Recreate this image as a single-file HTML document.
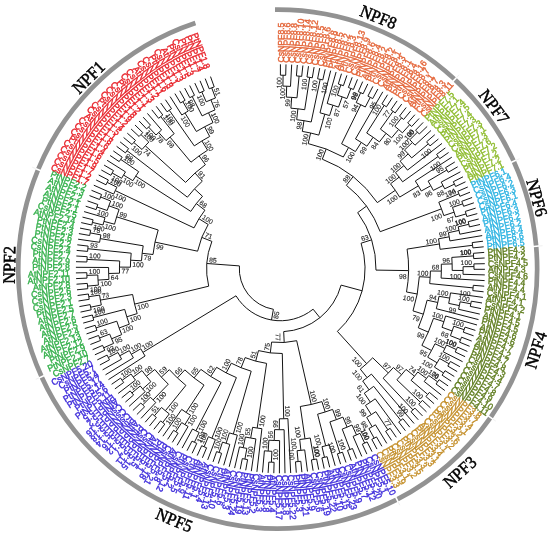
<!DOCTYPE html>
<html lang="en"><head><meta charset="utf-8"><title>NPF phylogenetic tree</title>
<style>html,body{margin:0;padding:0;background:#fff}svg{display:block;filter:blur(0.35px)}</style></head>
<body>
<svg width="550" height="535" viewBox="0 0 550 535">
<rect width="550" height="535" fill="#fff"/>
<g transform="translate(277.7 269.1)">
<path d="M-2.7 -259.4A259.4 259.4 0 0 1 176.5 -190.2M177.6 -189.1A259.4 259.4 0 0 1 235.7 -108.5M236.3 -107.1A259.4 259.4 0 0 1 258.4 -23.6M258.5 -22.1A259.4 259.4 0 0 1 213.3 147.7M212.4 149A259.4 259.4 0 0 1 119.9 230.1M118.5 230.8A259.4 259.4 0 0 1 -235.8 108.3M-236.4 106.9A259.4 259.4 0 0 1 -239.9 -98.8M-239.3 -100.2A259.4 259.4 0 0 1 -82.3 -246" fill="none" stroke="#929292" stroke-width="4.7"/>
<path d="M181.4 -194.3L179 -191.7M241.8 -110.4L238.6 -109M264.8 -23.4L261.3 -23.1M218.1 152L215.2 150M122.1 236.1L120.5 233M-241.9 110.2L-238.7 108.8M-245.5 -101.9L-242.2 -100.6" fill="none" stroke="#f0f0f0" stroke-width="1"/>
<g font-family="'Liberation Serif',serif" font-size="17.4" fill="#000" stroke="#000" stroke-width="0.5">
<text transform="rotate(21.8) translate(0 -265.5) scale(0.93 1)" text-anchor="middle">NPF8</text>
<text transform="rotate(53.1) translate(0 -264.8) scale(0.93 1)" text-anchor="middle">NPF7</text>
<text transform="rotate(74.6) translate(0 -263.1) scale(0.93 1)" text-anchor="middle">NPF6</text>
<text transform="rotate(287.4) translate(0 276.4) scale(0.93 1)" text-anchor="middle">NPF4</text>
<text transform="rotate(318.1) translate(0 278.5) scale(0.93 1)" text-anchor="middle">NPF3</text>
<text transform="rotate(22.4) translate(0 277.3) scale(0.93 1)" text-anchor="middle">NPF5</text>
<text transform="rotate(270.9) translate(0 -262.6) scale(0.93 1)" text-anchor="middle">NPF2</text>
<text transform="rotate(315.4) translate(0 -263.6) scale(0.93 1)" text-anchor="middle">NPF1</text>
</g></g>
<g transform="translate(280.4 268.8)">
<g font-family="'Liberation Sans',sans-serif" font-size="9.15" stroke-width="0.4">
<g fill="#e4663a" stroke="#e4663a">
<text transform="rotate(-90) scale(0.95 1)" x="217.1" y="3.2">CsNPF8.5</text>
<text transform="rotate(-88.4) scale(0.95 1)" x="217.1" y="3.2">CsNPF8.6</text>
<text transform="rotate(-86.8) scale(0.95 1)" x="217.1" y="3.2">CsNPF8.8</text>
<text transform="rotate(-85.3) scale(0.95 1)" x="217.1" y="3.2">CsNPF8.10</text>
<text transform="rotate(-83.7) scale(0.95 1)" x="217.2" y="3.2">CsNPF8.14</text>
<text transform="rotate(-82.1) scale(0.95 1)" x="217.2" y="3.2">CsNPF8.12</text>
<text transform="rotate(-80.5) scale(0.95 1)" x="217.3" y="3.2">CsNPF8.5</text>
<text transform="rotate(-78.9) scale(0.95 1)" x="217.4" y="3.2">CsNPF8.6</text>
<text transform="rotate(-77.3) scale(0.95 1)" x="217.4" y="3.2">PtNPF8.8</text>
<text transform="rotate(-75.8) scale(0.95 1)" x="217.5" y="3.2">PtNPF8.5</text>
<text transform="rotate(-74.2) scale(0.95 1)" x="217.6" y="3.2">AtNPF8.2</text>
<text transform="rotate(-72.6) scale(0.95 1)" x="217.7" y="3.2">PtNPF8.3</text>
<text transform="rotate(-71) scale(0.95 1)" x="217.9" y="3.2">CsNPF8.13</text>
<text transform="rotate(-69.4) scale(0.95 1)" x="218" y="3.2">CsNPF8.9</text>
<text transform="rotate(-67.9) scale(0.95 1)" x="218.1" y="3.2">PtNPF8.6</text>
<text transform="rotate(-66.3) scale(0.95 1)" x="218.2" y="3.2">AtNPF8.4</text>
<text transform="rotate(-64.7) scale(0.95 1)" x="218.3" y="3.2">PtNPF8.2</text>
<text transform="rotate(-63.1) scale(0.95 1)" x="218.5" y="3.2">CsNPF8.2</text>
<text transform="rotate(-61.5) scale(0.95 1)" x="218.6" y="3.2">CsNPF8.1</text>
<text transform="rotate(-60) scale(0.95 1)" x="218.7" y="3.2">AtNPF8.3</text>
<text transform="rotate(-58.4) scale(0.95 1)" x="218.8" y="3.2">PtNPF8.1</text>
<text transform="rotate(-56.8) scale(0.95 1)" x="218.9" y="3.2">PtNPF8.4</text>
<text transform="rotate(-55.2) scale(0.95 1)" x="219" y="3.2">CsNPF8.16</text>
<text transform="rotate(-53.6) scale(0.95 1)" x="219.1" y="3.2">CsNPF8.7</text>
<text transform="rotate(-52) scale(0.95 1)" x="219.2" y="3.2">AtNPF8.1</text>
<text transform="rotate(-50.5) scale(0.95 1)" x="219.3" y="3.2">PtNPF8.7</text>
<text transform="rotate(-48.9) scale(0.95 1)" x="219.4" y="3.2">CsNPF8.3</text>
<text transform="rotate(-47.3) scale(0.95 1)" x="219.5" y="3.2">CsNPF8.11</text>
</g>
<g fill="#8dbb2c" stroke="#8dbb2c">
<text transform="rotate(-45.7) scale(0.95 1)" x="219.5" y="3.2">PtNPF7.5</text>
<text transform="rotate(-44.1) scale(0.95 1)" x="219.5" y="3.2">AtNPF7.1</text>
<text transform="rotate(-42.6) scale(0.95 1)" x="219.6" y="3.2">CsNPF7.4</text>
<text transform="rotate(-41) scale(0.95 1)" x="219.6" y="3.2">CsNPF7.5</text>
<text transform="rotate(-39.4) scale(0.95 1)" x="219.6" y="3.2">PtNPF7.4</text>
<text transform="rotate(-37.8) scale(0.95 1)" x="219.6" y="3.2">PtNPF7.3</text>
<text transform="rotate(-36.2) scale(0.95 1)" x="219.6" y="3.2">CsNPF7.3</text>
<text transform="rotate(-34.7) scale(0.95 1)" x="219.6" y="3.2">CsNPF7.1</text>
<text transform="rotate(-33.1) scale(0.95 1)" x="219.6" y="3.2">AtNPF7.3</text>
<text transform="rotate(-31.5) scale(0.95 1)" x="219.5" y="3.2">PtNPF7.6</text>
<text transform="rotate(-29.9) scale(0.95 1)" x="219.5" y="3.2">CsNPF7.2</text>
<text transform="rotate(-28.3) scale(0.95 1)" x="219.5" y="3.2">PtNPF7.2</text>
<text transform="rotate(-26.7) scale(0.95 1)" x="219.4" y="3.2">AtNPF7.2</text>
<text transform="rotate(-25.2) scale(0.95 1)" x="219.3" y="3.2">PtNPF7.1</text>
</g>
<g fill="#2fb4e2" stroke="#2fb4e2">
<text transform="rotate(-23.6) scale(0.95 1)" x="219.3" y="3.2">PtNPF6.1</text>
<text transform="rotate(-22) scale(0.95 1)" x="219.2" y="3.2">CsNPF6.4</text>
<text transform="rotate(-20.4) scale(0.95 1)" x="219.2" y="3.2">CsNPF6.2</text>
<text transform="rotate(-18.8) scale(0.95 1)" x="219.1" y="3.2">CsNPF6.3</text>
<text transform="rotate(-17.3) scale(0.95 1)" x="219" y="3.2">CsNPF6.1</text>
<text transform="rotate(-15.7) scale(0.95 1)" x="219" y="3.2">PtNPF6.4</text>
<text transform="rotate(-14.1) scale(0.95 1)" x="218.9" y="3.2">AtNPF6.3</text>
<text transform="rotate(-12.5) scale(0.95 1)" x="218.9" y="3.2">PtNPF6.2</text>
<text transform="rotate(-10.9) scale(0.95 1)" x="218.8" y="3.2">AtNPF6.2</text>
<text transform="rotate(-9.3) scale(0.95 1)" x="218.8" y="3.2">AtNPF6.4</text>
<text transform="rotate(-7.8) scale(0.95 1)" x="218.7" y="3.2">PtNPF6.6</text>
<text transform="rotate(-6.2) scale(0.95 1)" x="218.7" y="3.2">PtNPF6.5</text>
</g>
<g fill="#5f7d1f" stroke="#5f7d1f">
<text transform="rotate(-4.6) scale(0.95 1)" x="218.7" y="3.2">PtNPF4.3</text>
<text transform="rotate(-3) scale(0.95 1)" x="218.6" y="3.2">PtNPF4.2</text>
<text transform="rotate(-1.4) scale(0.95 1)" x="218.6" y="3.2">CsNPF4.5</text>
<text transform="rotate(0.1) scale(0.95 1)" x="218.6" y="3.2">AtNPF4.3</text>
<text transform="rotate(1.7) scale(0.95 1)" x="218.6" y="3.2">CsNPF4.6</text>
<text transform="rotate(3.3) scale(0.95 1)" x="218.7" y="3.2">PtNPF4.4</text>
<text transform="rotate(4.9) scale(0.95 1)" x="218.7" y="3.2">AtNPF4.4</text>
<text transform="rotate(6.5) scale(0.95 1)" x="218.7" y="3.2">CsNPF4.1</text>
<text transform="rotate(8) scale(0.95 1)" x="218.8" y="3.2">AtNPF4.1</text>
<text transform="rotate(9.6) scale(0.95 1)" x="218.8" y="3.2">CsNPF4.2</text>
<text transform="rotate(11.2) scale(0.95 1)" x="218.9" y="3.2">PtNPF4.1</text>
<text transform="rotate(12.8) scale(0.95 1)" x="218.9" y="3.2">AtNPF4.5</text>
<text transform="rotate(14.4) scale(0.95 1)" x="219" y="3.2">PtNPF4.5</text>
<text transform="rotate(16) scale(0.95 1)" x="219.1" y="3.2">AtNPF4.6</text>
<text transform="rotate(17.5) scale(0.95 1)" x="219.1" y="3.2">PtNPF4.6</text>
<text transform="rotate(19.1) scale(0.95 1)" x="219.2" y="3.2">AtNPF4.7</text>
<text transform="rotate(20.7) scale(0.95 1)" x="219.3" y="3.2">AtNPF4.2</text>
<text transform="rotate(22.3) scale(0.95 1)" x="219.4" y="3.2">PtNPF4.7</text>
<text transform="rotate(23.9) scale(0.95 1)" x="219.5" y="3.2">PtNPF4.8</text>
<text transform="rotate(25.4) scale(0.95 1)" x="219.5" y="3.2">CsNPF4.3</text>
<text transform="rotate(27) scale(0.95 1)" x="219.6" y="3.2">CsNPF4.4</text>
<text transform="rotate(28.6) scale(0.95 1)" x="219.7" y="3.2">CsNPF4.7</text>
<text transform="rotate(30.2) scale(0.95 1)" x="219.7" y="3.2">CsNPF4.8</text>
<text transform="rotate(31.8) scale(0.95 1)" x="219.8" y="3.2">CsNPF4.9</text>
<text transform="rotate(33.3) scale(0.95 1)" x="219.8" y="3.2">CsNPF4.10</text>
<text transform="rotate(34.9) scale(0.95 1)" x="219.9" y="3.2">CsNPF4.11</text>
</g>
<g fill="#c48f2a" stroke="#c48f2a">
<text transform="rotate(36.5) scale(0.95 1)" x="219.9" y="3.2">CsNPF3.8</text>
<text transform="rotate(38.1) scale(0.95 1)" x="219.9" y="3.2">CsNPF3.7</text>
<text transform="rotate(39.7) scale(0.95 1)" x="219.9" y="3.2">CsNPF3.4</text>
<text transform="rotate(41.3) scale(0.95 1)" x="219.9" y="3.2">CsNPF3.1</text>
<text transform="rotate(42.8) scale(0.95 1)" x="219.9" y="3.2">PtNPF3.2</text>
<text transform="rotate(44.4) scale(0.95 1)" x="219.9" y="3.2">CsNPF3.6</text>
<text transform="rotate(46) scale(0.95 1)" x="219.8" y="3.2">CsNPF3.2</text>
<text transform="rotate(47.6) scale(0.95 1)" x="219.8" y="3.2">AtNPF3.1</text>
<text transform="rotate(49.2) scale(0.95 1)" x="219.7" y="3.2">PtNPF3.4</text>
<text transform="rotate(50.7) scale(0.95 1)" x="219.6" y="3.2">CsNPF3.1</text>
<text transform="rotate(52.3) scale(0.95 1)" x="219.5" y="3.2">CsNPF3.3</text>
<text transform="rotate(53.9) scale(0.95 1)" x="219.4" y="3.2">PtNPF3.3</text>
<text transform="rotate(55.5) scale(0.95 1)" x="219.3" y="3.2">CsNPF3.5</text>
<text transform="rotate(57.1) scale(0.95 1)" x="219.2" y="3.2">CsNPF3.2</text>
<text transform="rotate(58.7) scale(0.95 1)" x="219.1" y="3.2">PtNPF3.1</text>
<text transform="rotate(60.2) scale(0.95 1)" x="218.9" y="3.2">CsNPF3.9</text>
<text transform="rotate(61.8) scale(0.95 1)" x="218.8" y="3.2">CsNPF3.3</text>
</g>
<g fill="#3f2ddb" stroke="#3f2ddb">
<text transform="rotate(63.4) scale(0.95 1)" x="218.7" y="3.2">CsNPF5.10</text>
<text transform="rotate(65) scale(0.95 1)" x="218.5" y="3.2">CsNPF5.1</text>
<text transform="rotate(66.6) scale(0.95 1)" x="218.4" y="3.2">PtNPF5.20</text>
<text transform="rotate(68.1) scale(0.95 1)" x="218.2" y="3.2">PtNPF5.12</text>
<text transform="rotate(69.7) scale(0.95 1)" x="218.1" y="3.2">AtNPF5.7</text>
<text transform="rotate(71.3) scale(0.95 1)" x="218" y="3.2">CsNPF5.9</text>
<text transform="rotate(72.9) scale(0.95 1)" x="217.8" y="3.2">CsNPF5.23</text>
<text transform="rotate(74.5) scale(0.95 1)" x="217.7" y="3.2">PtNPF5.15</text>
<text transform="rotate(76) scale(0.95 1)" x="217.6" y="3.2">AtNPF5.10</text>
<text transform="rotate(77.6) scale(0.95 1)" x="217.5" y="3.2">PtNPF5.22</text>
<text transform="rotate(79.2) scale(0.95 1)" x="217.4" y="3.2">CsNPF5.19</text>
<text transform="rotate(80.8) scale(0.95 1)" x="217.3" y="3.2">CsNPF5.6</text>
<text transform="rotate(82.4) scale(0.95 1)" x="217.2" y="3.2">AtNPF5.9</text>
<text transform="rotate(84) scale(0.95 1)" x="217.2" y="3.2">PtNPF5.21</text>
<text transform="rotate(85.5) scale(0.95 1)" x="217.1" y="3.2">PtNPF5.3</text>
<text transform="rotate(87.1) scale(0.95 1)" x="217.1" y="3.2">CsNPF5.22</text>
<text transform="rotate(88.7) scale(0.95 1)" x="217.1" y="3.2">CsNPF5.8</text>
<text transform="rotate(90.3) scale(0.95 1)" x="217.1" y="3.2">CsNPF5.17</text>
<text transform="rotate(91.9) scale(0.95 1)" x="217.1" y="3.2">AtNPF5.4</text>
<text transform="rotate(93.4) scale(0.95 1)" x="217.1" y="3.2">PtNPF5.8</text>
<text transform="rotate(95) scale(0.95 1)" x="217.2" y="3.2">AtNPF5.3</text>
<text transform="rotate(96.6) scale(0.95 1)" x="217.2" y="3.2">CsNPF5.2</text>
<text transform="rotate(98.2) scale(0.95 1)" x="217.3" y="3.2">PtNPF5.13</text>
<text transform="rotate(99.8) scale(0.95 1)" x="217.4" y="3.2">PtNPF5.19</text>
<text transform="rotate(101.3) scale(0.95 1)" x="217.6" y="3.2">CsNPF5.24</text>
<text transform="rotate(102.9) scale(0.95 1)" x="217.7" y="3.2">CsNPF5.3</text>
<text transform="rotate(104.5) scale(0.95 1)" x="217.8" y="3.2">AtNPF5.6</text>
<text transform="rotate(106.1) scale(0.95 1)" x="218" y="3.2">PtNPF5.10</text>
<text transform="rotate(107.7) scale(0.95 1)" x="218.2" y="3.2">CsNPF5.13</text>
<text transform="rotate(109.3) scale(0.95 1)" x="218.4" y="3.2">CsNPF5.4</text>
<text transform="rotate(110.8) scale(0.95 1)" x="218.6" y="3.2">AtNPF5.1</text>
<text transform="rotate(112.4) scale(0.95 1)" x="218.7" y="3.2">AtNPF5.11</text>
<text transform="rotate(114) scale(0.95 1)" x="218.9" y="3.2">PtNPF5.9</text>
<text transform="rotate(115.6) scale(0.95 1)" x="219.1" y="3.2">CsNPF5.5</text>
<text transform="rotate(117.2) scale(0.95 1)" x="219.3" y="3.2">PtNPF5.2</text>
<text transform="rotate(118.7) scale(0.95 1)" x="219.5" y="3.2">CsNPF5.12</text>
<text transform="rotate(120.3) scale(0.95 1)" x="219.7" y="3.2">AtNPF5.8</text>
<text transform="rotate(121.9) scale(0.95 1)" x="219.9" y="3.2">CsNPF5.21</text>
<text transform="rotate(123.5) scale(0.95 1)" x="220" y="3.2">PtNPF5.18</text>
<text transform="rotate(125.1) scale(0.95 1)" x="220.2" y="3.2">PtNPF5.1</text>
<text transform="rotate(126.7) scale(0.95 1)" x="220.3" y="3.2">AtNPF5.5</text>
<text transform="rotate(128.2) scale(0.95 1)" x="220.4" y="3.2">CsNPF5.15</text>
<text transform="rotate(129.8) scale(0.95 1)" x="220.6" y="3.2">CsNPF5.11</text>
<text transform="rotate(131.4) scale(0.95 1)" x="220.6" y="3.2">PtNPF5.7</text>
<text transform="rotate(133) scale(0.95 1)" x="220.7" y="3.2">AtNPF5.12</text>
<text transform="rotate(134.6) scale(0.95 1)" x="220.8" y="3.2">PtNPF5.16</text>
<text transform="rotate(136.1) scale(0.95 1)" x="220.8" y="3.2">CsNPF5.14</text>
<text transform="rotate(137.7) scale(0.95 1)" x="220.8" y="3.2">CsNPF5.18</text>
<text transform="rotate(139.3) scale(0.95 1)" x="220.8" y="3.2">CsNPF5.16</text>
<text transform="rotate(140.9) scale(0.95 1)" x="220.8" y="3.2">AtNPF5.2</text>
<text transform="rotate(142.5) scale(0.95 1)" x="220.8" y="3.2">PtNPF5.5</text>
<text transform="rotate(324) scale(0.95 1)" x="-221.7" y="3.2" text-anchor="end">PtNPF5.11</text>
<text transform="rotate(325.6) scale(0.95 1)" x="-221.7" y="3.2" text-anchor="end">PtNPF5.6</text>
<text transform="rotate(327.2) scale(0.95 1)" x="-221.7" y="3.2" text-anchor="end">PtNPF5.14</text>
<text transform="rotate(328.8) scale(0.95 1)" x="-221.7" y="3.2" text-anchor="end">PtNPF5.17</text>
<text transform="rotate(330.4) scale(0.95 1)" x="-221.7" y="3.2" text-anchor="end">PtNPF5.4</text>
<text transform="rotate(332) scale(0.95 1)" x="-221.7" y="3.2" text-anchor="end">CsNPF5.7</text>
<text transform="rotate(333.5) scale(0.95 1)" x="-221.7" y="3.2" text-anchor="end">CsNPF5.20</text>
</g>
<g fill="#35b04c" stroke="#35b04c">
<text transform="rotate(335.1) scale(0.95 1)" x="-221.7" y="3.2" text-anchor="end">CsNPF2.7</text>
<text transform="rotate(336.7) scale(0.95 1)" x="-221.7" y="3.2" text-anchor="end">PtNPF2.10</text>
<text transform="rotate(338.3) scale(0.95 1)" x="-221.7" y="3.2" text-anchor="end">PtNPF2.9</text>
<text transform="rotate(339.9) scale(0.95 1)" x="-221.7" y="3.2" text-anchor="end">AtNPF2.12</text>
<text transform="rotate(341.4) scale(0.95 1)" x="-221.7" y="3.2" text-anchor="end">AtNPF2.13</text>
<text transform="rotate(343) scale(0.95 1)" x="-221.7" y="3.2" text-anchor="end">AtNPF2.4</text>
<text transform="rotate(344.6) scale(0.95 1)" x="-221.7" y="3.2" text-anchor="end">AtNPF2.5</text>
<text transform="rotate(346.2) scale(0.95 1)" x="-221.7" y="3.2" text-anchor="end">AtNPF2.6</text>
<text transform="rotate(347.8) scale(0.95 1)" x="-221.7" y="3.2" text-anchor="end">AtNPF2.7</text>
<text transform="rotate(349.3) scale(0.95 1)" x="-221.7" y="3.2" text-anchor="end">PtNPF2.5</text>
<text transform="rotate(350.9) scale(0.95 1)" x="-221.7" y="3.2" text-anchor="end">CsNPF2.1</text>
<text transform="rotate(352.5) scale(0.95 1)" x="-221.7" y="3.2" text-anchor="end">CsNPF2.3</text>
<text transform="rotate(354.1) scale(0.95 1)" x="-221.7" y="3.2" text-anchor="end">CsNPF2.6</text>
<text transform="rotate(355.7) scale(0.95 1)" x="-221.7" y="3.2" text-anchor="end">AtNPF2.8</text>
<text transform="rotate(357.3) scale(0.95 1)" x="-221.7" y="3.2" text-anchor="end">AtNPF2.10</text>
<text transform="rotate(358.8) scale(0.95 1)" x="-221.7" y="3.2" text-anchor="end">AtNPF2.11</text>
<text transform="rotate(0.4) scale(0.95 1)" x="-221.7" y="3.2" text-anchor="end">PtNPF2.8</text>
<text transform="rotate(2) scale(0.95 1)" x="-221.7" y="3.2" text-anchor="end">AtNPF2.9</text>
<text transform="rotate(3.6) scale(0.95 1)" x="-221.7" y="3.2" text-anchor="end">PtNPF2.7</text>
<text transform="rotate(5.2) scale(0.95 1)" x="-221.7" y="3.2" text-anchor="end">CsNPF2.4</text>
<text transform="rotate(6.7) scale(0.95 1)" x="-221.7" y="3.2" text-anchor="end">CsNPF2.2</text>
<text transform="rotate(8.3) scale(0.95 1)" x="-221.7" y="3.2" text-anchor="end">PtNPF2.6</text>
<text transform="rotate(9.9) scale(0.95 1)" x="-221.7" y="3.2" text-anchor="end">PtNPF2.3</text>
<text transform="rotate(11.5) scale(0.95 1)" x="-221.7" y="3.2" text-anchor="end">PtNPF2.4</text>
<text transform="rotate(13.1) scale(0.95 1)" x="-221.7" y="3.2" text-anchor="end">AtNPF2.14</text>
<text transform="rotate(14.7) scale(0.95 1)" x="-221.7" y="3.2" text-anchor="end">CsNPF2.5</text>
<text transform="rotate(16.2) scale(0.95 1)" x="-221.7" y="3.2" text-anchor="end">PtNPF2.1</text>
<text transform="rotate(17.8) scale(0.95 1)" x="-221.7" y="3.2" text-anchor="end">AtNPF2.1</text>
<text transform="rotate(19.4) scale(0.95 1)" x="-221.7" y="3.2" text-anchor="end">AtNPF2.2</text>
<text transform="rotate(21) scale(0.95 1)" x="-221.7" y="3.2" text-anchor="end">AtNPF2.3</text>
<text transform="rotate(22.6) scale(0.95 1)" x="-221.7" y="3.2" text-anchor="end">PtNPF2.2</text>
</g>
<g fill="#e8242b" stroke="#e8242b">
<text transform="rotate(24.1) scale(0.95 1)" x="-221.7" y="3.2" text-anchor="end">CsNPF1.7</text>
<text transform="rotate(25.7) scale(0.95 1)" x="-221.7" y="3.2" text-anchor="end">CsNPF1.2</text>
<text transform="rotate(27.3) scale(0.95 1)" x="-221.7" y="3.2" text-anchor="end">CsNPF1.7</text>
<text transform="rotate(28.9) scale(0.95 1)" x="-221.7" y="3.2" text-anchor="end">CsNPF1.9</text>
<text transform="rotate(30.5) scale(0.95 1)" x="-221.7" y="3.2" text-anchor="end">CsNPF1.5</text>
<text transform="rotate(32) scale(0.95 1)" x="-221.7" y="3.2" text-anchor="end">PtNPF1.6</text>
<text transform="rotate(33.6) scale(0.95 1)" x="-221.7" y="3.2" text-anchor="end">CsNPF1.4</text>
<text transform="rotate(35.2) scale(0.95 1)" x="-221.7" y="3.2" text-anchor="end">CsNPF1.6</text>
<text transform="rotate(36.8) scale(0.95 1)" x="-221.7" y="3.2" text-anchor="end">CsNPF1.8</text>
<text transform="rotate(38.4) scale(0.95 1)" x="-221.7" y="3.2" text-anchor="end">AtNPF1.1</text>
<text transform="rotate(40) scale(0.95 1)" x="-221.7" y="3.2" text-anchor="end">CsNPF1.5</text>
<text transform="rotate(41.5) scale(0.95 1)" x="-221.7" y="3.2" text-anchor="end">CsNPF1.4</text>
<text transform="rotate(43.1) scale(0.95 1)" x="-221.7" y="3.2" text-anchor="end">PtNPF1.2</text>
<text transform="rotate(44.7) scale(0.95 1)" x="-221.7" y="3.2" text-anchor="end">CsNPF1.9</text>
<text transform="rotate(46.3) scale(0.95 1)" x="-221.7" y="3.2" text-anchor="end">CsNPF1.8</text>
<text transform="rotate(47.9) scale(0.95 1)" x="-221.7" y="3.2" text-anchor="end">CsNPF1.2</text>
<text transform="rotate(49.4) scale(0.95 1)" x="-221.7" y="3.2" text-anchor="end">PtNPF1.1</text>
<text transform="rotate(51) scale(0.95 1)" x="-221.7" y="3.2" text-anchor="end">CsNPF1.1</text>
<text transform="rotate(52.6) scale(0.95 1)" x="-221.8" y="3.2" text-anchor="end">CsNPF1.3</text>
<text transform="rotate(54.2) scale(0.95 1)" x="-222.1" y="3.2" text-anchor="end">AtNPF1.2</text>
<text transform="rotate(55.8) scale(0.95 1)" x="-222.3" y="3.2" text-anchor="end">CsNPF1.1</text>
<text transform="rotate(57.3) scale(0.95 1)" x="-222.6" y="3.2" text-anchor="end">CsNPF1.6</text>
<text transform="rotate(58.9) scale(0.95 1)" x="-222.9" y="3.2" text-anchor="end">PtNPF1.8</text>
<text transform="rotate(60.5) scale(0.95 1)" x="-223.1" y="3.2" text-anchor="end">CsNPF1.1</text>
<text transform="rotate(62.1) scale(0.95 1)" x="-223.4" y="3.2" text-anchor="end">AtNPF1.3</text>
<text transform="rotate(63.7) scale(0.95 1)" x="-223.7" y="3.2" text-anchor="end">PtNPF1.5</text>
<text transform="rotate(65.3) scale(0.95 1)" x="-224" y="3.2" text-anchor="end">CsNPF1.3</text>
<text transform="rotate(66.8) scale(0.95 1)" x="-224.2" y="3.2" text-anchor="end">PtNPF1.7</text>
<text transform="rotate(68.4) scale(0.95 1)" x="-224.4" y="3.2" text-anchor="end">PtNPF1.4</text>
<text transform="rotate(70) scale(0.95 1)" x="-224.4" y="3.2" text-anchor="end">PtNPF1.8</text>
</g>
</g>
<path d="M-7 40.5A41.1 41.1 0 0 1 -41 -2.9M-7 40.5L-8.9 51.2M32.7 40.4A52 52 0 0 1 -44.4 27M32.7 40.4L39.5 48.9M60.7 16.3A62.9 62.9 0 0 1 3.3 62.8M60.7 16.3L81.8 22M80.7 -25.6A84.7 84.7 0 0 1 57 62.6M80.7 -25.6L91.1 -28.9M77.3 -56.2A95.6 95.6 0 0 1 95.6 1.3M77.3 -56.2L86.1 -62.7M66 -83.5A106.5 106.5 0 0 1 99.8 -37.1M66 -83.5L72.7 -92.1M41.9 -109.6A117.4 117.4 0 0 1 96.9 -66.2M41.9 -109.6L45.8 -119.8M27.8 -125.2A128.2 128.2 0 0 1 62.9 -111.8M27.8 -125.2L30.2 -135.8M21.9 -137.4A139.1 139.1 0 0 1 38.4 -133.7M21.9 -137.4L23.6 -148.2M16.3 -149.1A150 150 0 0 1 30.8 -146.8M16.3 -149.1L17.5 -160M10.5 -160.6A160.9 160.9 0 0 1 24.3 -159.1M10.5 -160.6L11.3 -171.5M5.9 -171.7A171.8 171.8 0 0 1 16.6 -171M5.9 -171.7L6.3 -182.6M2.5 -182.7A182.7 182.7 0 0 1 10.1 -182.4M2.5 -182.7L2.7 -193.6M0 -193.6A193.6 193.6 0 0 1 5.3 -193.5M0 -193.6L0 -204.5M5.3 -193.5L5.6 -204.4M10.1 -182.4L11.3 -204.2M16.6 -171L18.7 -192.7M16 -192.9A193.6 193.6 0 0 1 21.3 -192.4M16 -192.9L16.9 -203.8M21.3 -192.4L22.5 -203.3M24.3 -159.1L29.3 -191.4M26.6 -191.8A193.6 193.6 0 0 1 31.9 -191M26.6 -191.8L28.1 -202.6M31.9 -191L33.7 -201.7M30.8 -146.8L39.8 -189.5M37.2 -190A193.6 193.6 0 0 1 42.4 -188.9M37.2 -190L39.3 -200.7M42.4 -188.9L44.8 -199.5M38.4 -133.7L44.4 -154.7M39.6 -156A160.9 160.9 0 0 1 49.2 -153.2M39.6 -156L50.3 -198.2M49.2 -153.2L52.5 -163.6M46.8 -165.3A171.8 171.8 0 0 1 58.1 -161.7M46.8 -165.3L55.7 -196.8M58.1 -161.7L61.8 -171.9M57 -173.6A182.7 182.7 0 0 1 66.5 -170.2M57 -173.6L60.4 -183.9M57.9 -184.8A193.6 193.6 0 0 1 63 -183.1M57.9 -184.8L61.1 -195.1M63 -183.1L66.5 -193.4M66.5 -170.2L70.5 -180.3M68 -181.3A193.6 193.6 0 0 1 73 -179.3M68 -181.3L71.8 -191.5M73 -179.3L77.1 -189.4M62.9 -111.8L68.2 -121.3M61.2 -125A139.1 139.1 0 0 1 75 -117.2M61.2 -125L80.4 -164.1M75.8 -166.2A182.7 182.7 0 0 1 84.9 -161.8M75.8 -166.2L80.3 -176.2M77.9 -177.2A193.6 193.6 0 0 1 82.7 -175M77.9 -177.2L82.3 -187.2M82.7 -175L87.4 -184.9M84.9 -161.8L89.9 -171.5M87.5 -172.7A193.6 193.6 0 0 1 92.3 -170.2M87.5 -172.7L92.5 -182.4M92.3 -170.2L97.5 -179.8M75 -117.2L80.9 -126.4M75.1 -129.9A150 150 0 0 1 86.5 -122.6M75.1 -129.9L102.4 -177M86.5 -122.6L92.7 -131.5M86.3 -135.8A160.9 160.9 0 0 1 99 -126.9M86.3 -135.8L103.8 -163.4M101.5 -164.9A193.6 193.6 0 0 1 106 -162M101.5 -164.9L107.2 -174.1M106 -162L112 -171.1M99 -126.9L105.7 -135.5M100 -139.7A171.8 171.8 0 0 1 111.2 -131M100 -139.7L112.7 -157.5M110.5 -159A193.6 193.6 0 0 1 114.8 -155.9M110.5 -159L116.7 -167.9M114.8 -155.9L121.3 -164.7M111.2 -131L118.2 -139.3M114.4 -142.5A182.7 182.7 0 0 1 122 -136M114.4 -142.5L121.2 -151M119.1 -152.7A193.6 193.6 0 0 1 123.2 -149.3M119.1 -152.7L125.8 -161.3M123.2 -149.3L130.2 -157.7M122 -136L129.3 -144.1M127.3 -145.9A193.6 193.6 0 0 1 131.3 -142.3M127.3 -145.9L134.5 -154.1M131.3 -142.3L138.7 -150.3M96.9 -66.2L114.9 -78.5M110.1 -85A139.1 139.1 0 0 1 119.3 -71.7M110.1 -85L118.8 -91.7M115.1 -96.2A150 150 0 0 1 122.2 -87M115.1 -96.2L123.5 -103.2M119.7 -107.6A160.9 160.9 0 0 1 127.1 -98.7M119.7 -107.6L127.8 -114.9M124.1 -118.8A171.8 171.8 0 0 1 131.3 -110.9M124.1 -118.8L132 -126.3M129.4 -129A182.7 182.7 0 0 1 134.6 -123.6M129.4 -129L137.1 -136.7M135.2 -138.6A193.6 193.6 0 0 1 138.9 -134.8M135.2 -138.6L142.8 -146.4M138.9 -134.8L146.8 -142.4M134.6 -123.6L150.6 -138.3M131.3 -110.9L147.9 -124.9M146.2 -127A193.6 193.6 0 0 1 149.6 -122.9M146.2 -127L154.4 -134.1M149.6 -122.9L158 -129.8M127.1 -98.7L161.6 -125.4M122.2 -87L157.7 -112.3M156.2 -114.4A193.6 193.6 0 0 1 159.3 -110.1M156.2 -114.4L165 -120.9M159.3 -110.1L168.2 -116.3M119.3 -71.7L137.9 -82.9M134.9 -87.8A160.9 160.9 0 0 1 140.9 -77.8M134.9 -87.8L171.4 -111.6M140.9 -77.8L150.4 -83.1M147.7 -87.7A171.8 171.8 0 0 1 152.9 -78.4M147.7 -87.7L166.5 -98.8M165.1 -101.1A193.6 193.6 0 0 1 167.8 -96.5M165.1 -101.1L174.4 -106.8M167.8 -96.5L177.3 -102M152.9 -78.4L162.6 -83.3M160.8 -86.7A182.7 182.7 0 0 1 164.3 -80M160.8 -86.7L180 -97M164.3 -80L174.1 -84.7M172.9 -87.1A193.6 193.6 0 0 1 175.2 -82.3M172.9 -87.1L182.6 -92M175.2 -82.3L185.1 -87M99.8 -37.1L161 -59.9M158.4 -66.6A171.8 171.8 0 0 1 163.4 -53.2M158.4 -66.6L178.5 -75M177.4 -77.5A193.6 193.6 0 0 1 179.5 -72.5M177.4 -77.5L187.4 -81.8M179.5 -72.5L189.6 -76.6M163.4 -53.2L173.7 -56.6M172.1 -61.4A182.7 182.7 0 0 1 175.2 -51.8M172.1 -61.4L182.4 -65M181.4 -67.5A193.6 193.6 0 0 1 183.2 -62.5M181.4 -67.5L191.7 -71.3M183.2 -62.5L193.5 -66M175.2 -51.8L185.7 -54.9M184.9 -57.4A193.6 193.6 0 0 1 186.4 -52.3M184.9 -57.4L195.3 -60.7M186.4 -52.3L196.9 -55.2M95.6 1.3L128.2 1.8M126.7 -19.7A128.2 128.2 0 0 1 126.1 23.2M126.7 -19.7L159 -24.8M158.1 -30A160.9 160.9 0 0 1 159.7 -19.5M158.1 -30L168.8 -32M168 -36.1A171.8 171.8 0 0 1 169.5 -27.9M168 -36.1L178.6 -38.4M177.8 -42A182.7 182.7 0 0 1 179.4 -34.6M177.8 -42L188.4 -44.5M187.8 -47.1A193.6 193.6 0 0 1 189 -41.9M187.8 -47.1L198.3 -49.8M189 -41.9L199.6 -44.3M179.4 -34.6L200.8 -38.8M169.5 -27.9L201.8 -33.2M159.7 -19.5L192.2 -23.5M191.8 -26.2A193.6 193.6 0 0 1 192.5 -20.9M191.8 -26.2L202.6 -27.6M192.5 -20.9L203.3 -22M126.1 23.2L136.8 25.2M138.9 7.9A139.1 139.1 0 0 1 132.6 42.1M138.9 7.9L149.8 8.5M150 2.2A150 150 0 0 1 149.3 14.8M150 2.2L160.9 2.3M160.9 -4.6A160.9 160.9 0 0 1 160.7 9.3M160.9 -4.6L171.7 -4.9M171.4 -11.4A171.8 171.8 0 0 1 171.8 1.6M171.4 -11.4L193.2 -12.9M193 -15.5A193.6 193.6 0 0 1 193.3 -10.2M193 -15.5L203.8 -16.4M193.3 -10.2L204.2 -10.8M171.8 1.6L182.7 1.7M182.7 -2.1A182.7 182.7 0 0 1 182.6 5.5M182.7 -2.1L193.6 -2.2M193.5 -4.9A193.6 193.6 0 0 1 193.6 0.5M193.5 -4.9L204.4 -5.1M193.6 0.5L204.5 0.5M182.6 5.5L204.4 6.1M160.7 9.3L204.2 11.8M149.3 14.8L192.7 19.1M192.9 16.5A193.6 193.6 0 0 1 192.4 21.8M192.9 16.5L203.8 17.4M192.4 21.8L203.2 23M132.6 42.1L143 45.4M146.7 31.4A150 150 0 0 1 137.9 59M146.7 31.4L157.4 33.7M158.6 27.5A160.9 160.9 0 0 1 155.9 39.9M158.6 27.5L169.3 29.3M170.1 24.1A171.8 171.8 0 0 1 168.3 34.6M170.1 24.1L202.5 28.6M168.3 34.6L179 36.8M179.7 33A182.7 182.7 0 0 1 178.2 40.5M179.7 33L190.4 35M190.9 32.4A193.6 193.6 0 0 1 189.9 37.6M190.9 32.4L201.6 34.2M189.9 37.6L200.6 39.8M178.2 40.5L199.4 45.3M155.9 39.9L198.1 50.8M137.9 59L147.9 63.3M153.1 49.5A160.9 160.9 0 0 1 141.5 76.6M153.1 49.5L163.5 52.9M165.2 47.2A171.8 171.8 0 0 1 161.6 58.5M165.2 47.2L196.6 56.2M161.6 58.5L171.8 62.2M173.4 57.4A182.7 182.7 0 0 1 170 66.9M173.4 57.4L183.8 60.9M184.6 58.3A193.6 193.6 0 0 1 182.9 63.4M184.6 58.3L195 61.6M182.9 63.4L193.2 67M170 66.9L180.1 70.9M181.1 68.4A193.6 193.6 0 0 1 179.2 73.4M181.1 68.4L191.3 72.3M179.2 73.4L189.2 77.5M141.5 76.6L151.1 81.7M154.6 74.9A171.8 171.8 0 0 1 147.3 88.4M154.6 74.9L164.4 79.6M166.1 76.2A182.7 182.7 0 0 1 162.8 83M166.1 76.2L176 80.8M177.1 78.3A193.6 193.6 0 0 1 174.8 83.2M177.1 78.3L187 82.7M174.8 83.2L184.7 87.9M162.8 83L182.2 92.9M147.3 88.4L156.7 94M159.2 89.7A182.7 182.7 0 0 1 154 98.3M159.2 89.7L168.7 95M170 92.7A193.6 193.6 0 0 1 167.4 97.3M170 92.7L179.5 97.9M167.4 97.3L176.8 102.8M154 98.3L163.2 104.2M164.6 101.9A193.6 193.6 0 0 1 161.7 106.4M164.6 101.9L173.9 107.7M161.7 106.4L170.8 112.4M57 62.6L86.3 94.9M92.3 89A128.2 128.2 0 0 1 79.9 100.3M92.3 89L108 104.2M113 98.7A150 150 0 0 1 102.7 109.4M113 98.7L121.2 105.9M125.6 100.6A160.9 160.9 0 0 1 116.5 111M125.6 100.6L134.1 107.4M137.4 103.2A171.8 171.8 0 0 1 130.7 111.5M137.4 103.2L146.1 109.7M148.3 106.7A182.7 182.7 0 0 1 143.8 112.7M148.3 106.7L157.2 113M158.7 110.9A193.6 193.6 0 0 1 155.6 115.2M158.7 110.9L167.7 117.1M155.6 115.2L164.4 121.7M143.8 112.7L160.9 126.2M130.7 111.5L147.3 125.6M149 123.6A193.6 193.6 0 0 1 145.5 127.7M149 123.6L157.4 130.6M145.5 127.7L153.7 134.9M116.5 111L140.1 133.6M142 131.6A193.6 193.6 0 0 1 138.3 135.5M142 131.6L150 139M138.3 135.5L146.1 143.1M102.7 109.4L132.6 141.1M134.5 139.3A193.6 193.6 0 0 1 130.6 142.9M134.5 139.3L142.1 147.1M130.6 142.9L137.9 151M79.9 100.3L86.7 108.8M91 105.3A139.1 139.1 0 0 1 82.3 112.2M91 105.3L133.7 154.7M82.3 112.2L88.7 121M93.3 117.5A150 150 0 0 1 83.9 124.4M93.3 117.5L120.4 151.6M122.5 149.9A193.6 193.6 0 0 1 118.3 153.2M122.5 149.9L129.4 158.4M118.3 153.2L125 161.9M83.9 124.4L90 133.4M94.8 130A160.9 160.9 0 0 1 85.1 136.6M94.8 130L120.5 165.2M85.1 136.6L90.9 145.8M95.4 142.9A171.8 171.8 0 0 1 86.3 148.6M95.4 142.9L107.5 161M109.7 159.5A193.6 193.6 0 0 1 105.2 162.5M109.7 159.5L115.9 168.5M105.2 162.5L111.2 171.6M86.3 148.6L91.8 158M95.1 156A182.7 182.7 0 0 1 88.5 159.8M95.1 156L106.4 174.6M88.5 159.8L93.8 169.4M96.1 168.1A193.6 193.6 0 0 1 91.4 170.6M96.1 168.1L101.5 177.5M91.4 170.6L96.6 180.3M3.3 62.8L3.8 73.7M16.3 71.9A73.8 73.8 0 0 1 -8.8 73.3M16.3 71.9L30.8 135.7M41.5 132.8A139.1 139.1 0 0 1 19.9 137.7M41.5 132.8L44.8 143.2M52.2 140.6A150 150 0 0 1 37.2 145.4M52.2 140.6L56 150.9M62.5 148.3A160.9 160.9 0 0 1 49.5 153.1M62.5 148.3L66.7 158.3M71.6 156.2A171.8 171.8 0 0 1 61.8 160.3M71.6 156.2L76.1 166.1M79.6 164.5A182.7 182.7 0 0 1 72.7 167.6M79.6 164.5L84.3 174.3M86.7 173.1A193.6 193.6 0 0 1 81.9 175.4M86.7 173.1L91.6 182.8M81.9 175.4L86.5 185.3M72.7 167.6L81.4 187.6M61.8 160.3L69.6 180.7M72.1 179.7A193.6 193.6 0 0 1 67.1 181.6M72.1 179.7L76.1 189.8M67.1 181.6L70.9 191.8M49.5 153.1L59.5 184.2M62.1 183.4A193.6 193.6 0 0 1 57 185M62.1 183.4L65.6 193.7M57 185L60.2 195.4M37.2 145.4L45.3 177M48.9 176A182.7 182.7 0 0 1 41.6 177.9M48.9 176L54.8 197M41.6 177.9L44.1 188.5M46.7 187.9A193.6 193.6 0 0 1 41.5 189.1M46.7 187.9L49.3 198.5M41.5 189.1L43.8 199.8M19.9 137.7L24.6 170.1M29.8 169.2A171.8 171.8 0 0 1 19.3 170.7M29.8 169.2L33.6 190.7M36.2 190.2A193.6 193.6 0 0 1 31 191.1M36.2 190.2L38.3 200.9M31 191.1L32.7 201.9M19.3 170.7L20.5 181.6M24.3 181.1A182.7 182.7 0 0 1 16.7 181.9M24.3 181.1L27.1 202.7M16.7 181.9L17.7 192.8M20.4 192.5A193.6 193.6 0 0 1 15.1 193M20.4 192.5L21.5 203.4M15.1 193L15.9 203.9M-8.8 73.3L-10.1 84.1M1.9 84.7A84.7 84.7 0 0 1 -21.9 81.8M1.9 84.7L3.3 150M7.5 149.8A150 150 0 0 1 -1 150M7.5 149.8L10.3 204.2M-1 150L-1.1 160.9M3.7 160.9A160.9 160.9 0 0 1 -5.8 160.8M3.7 160.9L4.6 204.4M-5.8 160.8L-6.2 171.7M-0.8 171.8A171.8 171.8 0 0 1 -11.5 171.4M-0.8 171.8L-1 204.5M-11.5 171.4L-12.2 182.3M-8.5 182.5A182.7 182.7 0 0 1 -16 182M-8.5 182.5L-9 193.4M-6.3 193.5A193.6 193.6 0 0 1 -11.6 193.3M-6.3 193.5L-6.6 204.4M-11.6 193.3L-12.3 204.1M-16 182L-17.9 203.7M-21.9 81.8L-24.7 92.3M-13.8 94.6A95.6 95.6 0 0 1 -35.3 88.8M-13.8 94.6L-23.2 159.2M-18.5 159.9A160.9 160.9 0 0 1 -27.8 158.5M-18.5 159.9L-23.5 203.1M-27.8 158.5L-29.7 169.2M-24.5 170.1A171.8 171.8 0 0 1 -35 168.2M-24.5 170.1L-29.1 202.4M-35 168.2L-37.2 178.9M-33.5 179.6A182.7 182.7 0 0 1 -40.9 178.1M-33.5 179.6L-35.5 190.3M-32.8 190.8A193.6 193.6 0 0 1 -38.1 189.8M-32.8 190.8L-34.7 201.5M-38.1 189.8L-40.2 200.5M-40.9 178.1L-45.8 199.3M-35.3 88.8L-39.3 98.9M-29.2 102.4A106.5 106.5 0 0 1 -49.1 94.4M-29.2 102.4L-47.1 165.3M-43.1 166.3A171.8 171.8 0 0 1 -51 164.1M-43.1 166.3L-51.2 198M-51 164.1L-54.3 174.5M-50.6 175.6A182.7 182.7 0 0 1 -57.9 173.3M-50.6 175.6L-56.7 196.5M-57.9 173.3L-61.3 183.6M-58.8 184.5A193.6 193.6 0 0 1 -63.8 182.8M-58.8 184.5L-62.1 194.8M-63.8 182.8L-67.4 193.1M-49.1 94.4L-54.2 104.1M-44 108.8A117.4 117.4 0 0 1 -63.8 98.5M-44 108.8L-68.5 169.4M-65 170.8A182.7 182.7 0 0 1 -72 167.9M-65 170.8L-72.7 191.1M-72 167.9L-76.3 177.9M-73.8 179A193.6 193.6 0 0 1 -78.7 176.9M-73.8 179L-78 189M-78.7 176.9L-83.2 186.8M-63.8 98.5L-69.7 107.6M-59.3 113.7A128.2 128.2 0 0 1 -79.5 100.6M-59.3 113.7L-84.5 162M-81.2 163.7A182.7 182.7 0 0 1 -87.9 160.2M-81.2 163.7L-86 173.5M-83.6 174.6A193.6 193.6 0 0 1 -88.4 172.3M-83.6 174.6L-88.3 184.5M-88.4 172.3L-93.4 181.9M-87.9 160.2L-98.3 179.3M-79.5 100.6L-86.3 109.1M-76.4 116.3A139.1 139.1 0 0 1 -95.6 101.1M-76.4 116.3L-94.3 143.6M-89.8 146.5A171.8 171.8 0 0 1 -98.7 140.6M-89.8 146.5L-95.5 155.8M-92.3 157.7A182.7 182.7 0 0 1 -98.7 153.8M-92.3 157.7L-103.3 176.5M-98.7 153.8L-104.6 162.9M-102.3 164.4A193.6 193.6 0 0 1 -106.8 161.5M-102.3 164.4L-108.1 173.6M-106.8 161.5L-112.8 170.6M-98.7 140.6L-117.5 167.4M-95.6 101.1L-103 109.1M-94.5 116.6A150 150 0 0 1 -111 100.9M-94.5 116.6L-115 141.9M-111.1 145.1A182.7 182.7 0 0 1 -118.9 138.7M-111.1 145.1L-117.7 153.7M-115.6 155.3A193.6 193.6 0 0 1 -119.8 152.1M-115.6 155.3L-122.1 164.1M-119.8 152.1L-126.6 160.6M-118.9 138.7L-126 147M-124 148.7A193.6 193.6 0 0 1 -128 145.2M-124 148.7L-130.9 157.1M-128 145.2L-135.2 153.4M-111 100.9L-119.1 108.3M-112.1 115.4A160.9 160.9 0 0 1 -125.6 100.7M-112.1 115.4L-127.3 131.1M-124.6 133.7A182.7 182.7 0 0 1 -130 128.4M-124.6 133.7L-139.4 149.6M-130 128.4L-137.7 136.1M-135.8 138A193.6 193.6 0 0 1 -139.6 134.2M-135.8 138L-143.5 145.7M-139.6 134.2L-147.5 141.7M-125.6 100.7L-134.1 107.5M-129.5 112.9A171.8 171.8 0 0 1 -138.4 101.8M-129.5 112.9L-137.7 120.1M-135.2 122.9A182.7 182.7 0 0 1 -140.2 117.2M-135.2 122.9L-151.3 137.6M-140.2 117.2L-148.5 124.2M-146.8 126.2A193.6 193.6 0 0 1 -150.2 122.1M-146.8 126.2L-155 133.3M-150.2 122.1L-158.7 129M-138.4 101.8L-147.2 108.3M-144.9 111.3A182.7 182.7 0 0 1 -149.4 105.2M-144.9 111.3L-162.2 124.6M-149.4 105.2L-158.3 111.5M-156.7 113.7A193.6 193.6 0 0 1 -159.8 109.3M-156.7 113.7L-165.5 120.1M-159.8 109.3L-168.8 115.5M-44.4 27L-137.5 83.6M-135.3 87.2A160.9 160.9 0 0 1 -139.6 80M-135.3 87.2L-171.9 110.8M-139.6 80L-149.1 85.5M-147 89A171.8 171.8 0 0 1 -151.1 81.8M-147 89L-174.9 106M-151.1 81.8L-160.7 87M-158.8 90.3A182.7 182.7 0 0 1 -162.4 83.7M-158.8 90.3L-177.8 101.1M-162.4 83.7L-172.1 88.7M-170.9 91A193.6 193.6 0 0 1 -173.3 86.3M-170.9 91L-180.5 96.2M-173.3 86.3L-183.1 91.1M-41 -2.9L-73.6 -5.3M-71.7 17.4A73.8 73.8 0 0 1 -68.5 -27.4M-71.7 17.4L-145.8 35.3M-143.2 44.8A150 150 0 0 1 -147.8 25.7M-143.2 44.8L-153.6 48M-151.1 55.4A160.9 160.9 0 0 1 -155.7 40.6M-151.1 55.4L-161.3 59.2M-158.7 65.8A171.8 171.8 0 0 1 -163.6 52.4M-158.7 65.8L-168.8 70M-166.8 74.6A182.7 182.7 0 0 1 -170.7 65.3M-166.8 74.6L-176.7 79M-175.6 81.5A193.6 193.6 0 0 1 -177.8 76.6M-175.6 81.5L-185.5 86M-177.8 76.6L-187.8 80.9M-170.7 65.3L-180.8 69.2M-179.9 71.7A193.6 193.6 0 0 1 -181.8 66.7M-179.9 71.7L-190 75.7M-181.8 66.7L-192 70.4M-163.6 52.4L-184.4 59.1M-183.5 61.6A193.6 193.6 0 0 1 -185.2 56.5M-183.5 61.6L-193.9 65.1M-185.2 56.5L-195.6 59.7M-155.7 40.6L-187.4 48.8M-186.7 51.4A193.6 193.6 0 0 1 -188 46.2M-186.7 51.4L-197.2 54.3M-188 46.2L-198.6 48.8M-147.8 25.7L-180 31.3M-179.1 36.2A182.7 182.7 0 0 1 -180.8 26.3M-179.1 36.2L-189.8 38.4M-189.2 41A193.6 193.6 0 0 1 -190.3 35.8M-189.2 41L-199.9 43.3M-190.3 35.8L-201 37.8M-180.8 26.3L-191.6 27.9M-191.2 30.5A193.6 193.6 0 0 1 -192 25.2M-191.2 30.5L-201.9 32.2M-192 25.2L-202.8 26.7M-68.5 -27.4L-78.6 -31.4M-82.8 -17.6A84.7 84.7 0 0 1 -72.2 -44.3M-82.8 -17.6L-125.4 -26.7M-127.4 -14.3A128.2 128.2 0 0 1 -122.2 -38.8M-127.4 -14.3L-138.3 -15.5M-138.9 -8A139.1 139.1 0 0 1 -137.2 -23M-138.9 -8L-149.8 -8.6M-150 -1.6A150 150 0 0 1 -149.2 -15.6M-150 -1.6L-160.9 -1.7M-160.9 4.4A160.9 160.9 0 0 1 -160.7 -7.8M-160.9 4.4L-171.8 4.7M-171.5 10.6A171.8 171.8 0 0 1 -171.8 -1.3M-171.5 10.6L-182.4 11.3M-182 16.3A182.7 182.7 0 0 1 -182.6 6.2M-182 16.3L-192.8 17.3M-192.6 19.9A193.6 193.6 0 0 1 -193.1 14.6M-192.6 19.9L-203.4 21M-193.1 14.6L-203.9 15.4M-182.6 6.2L-193.5 6.6M-193.4 9.3A193.6 193.6 0 0 1 -193.6 3.9M-193.4 9.3L-204.3 9.8M-193.6 3.9L-204.5 4.1M-171.8 -1.3L-204.5 -1.5M-160.7 -7.8L-193.4 -9.4M-193.5 -6.8A193.6 193.6 0 0 1 -193.2 -12.1M-193.5 -6.8L-204.4 -7.1M-193.2 -12.1L-204.1 -12.8M-149.2 -15.6L-192.6 -20.1M-192.8 -17.4A193.6 193.6 0 0 1 -192.3 -22.7M-192.8 -17.4L-203.7 -18.4M-192.3 -22.7L-203.1 -24M-137.2 -23L-180.2 -30.2M-180.8 -26.5A182.7 182.7 0 0 1 -179.5 -33.9M-180.8 -26.5L-202.3 -29.6M-179.5 -33.9L-190.2 -35.9M-190.7 -33.3A193.6 193.6 0 0 1 -189.7 -38.6M-190.7 -33.3L-201.5 -35.2M-189.7 -38.6L-200.4 -40.7M-122.2 -38.8L-163.8 -52M-165.9 -44.6A171.8 171.8 0 0 1 -161.3 -59.3M-165.9 -44.6L-176.4 -47.4M-177.4 -43.8A182.7 182.7 0 0 1 -175.4 -51.1M-177.4 -43.8L-188 -46.4M-188.6 -43.8A193.6 193.6 0 0 1 -187.3 -49M-188.6 -43.8L-199.2 -46.2M-187.3 -49L-197.9 -51.7M-175.4 -51.1L-196.3 -57.2M-161.3 -59.3L-171.5 -63M-173.2 -58.3A182.7 182.7 0 0 1 -169.7 -67.8M-173.2 -58.3L-183.5 -61.8M-184.3 -59.2A193.6 193.6 0 0 1 -182.6 -64.3M-184.3 -59.2L-194.7 -62.6M-182.6 -64.3L-192.9 -67.9M-169.7 -67.8L-179.8 -71.8M-180.8 -69.3A193.6 193.6 0 0 1 -178.8 -74.3M-180.8 -69.3L-190.9 -73.2M-178.8 -74.3L-188.9 -78.5M-72.2 -44.3L-81.4 -50M-86.4 -40.9A95.6 95.6 0 0 1 -75.5 -58.6M-86.4 -40.9L-165.2 -78.2M-166.7 -74.7A182.7 182.7 0 0 1 -163.5 -81.6M-166.7 -74.7L-186.6 -83.6M-163.5 -81.6L-173.2 -86.4M-174.4 -84A193.6 193.6 0 0 1 -172 -88.8M-174.4 -84L-184.2 -88.8M-172 -88.8L-181.7 -93.8M-75.5 -58.6L-84.1 -65.2M-89.6 -57.4A106.5 106.5 0 0 1 -77.9 -72.5M-89.6 -57.4L-144.7 -92.7M-147.5 -88.1A171.8 171.8 0 0 1 -141.7 -97.1M-147.5 -88.1L-156.8 -93.7M-158.8 -90.5A182.7 182.7 0 0 1 -154.9 -96.9M-158.8 -90.5L-168.2 -95.8M-169.5 -93.5A193.6 193.6 0 0 1 -166.9 -98.2M-169.5 -93.5L-179.1 -98.8M-166.9 -98.2L-176.3 -103.7M-154.9 -96.9L-173.3 -108.5M-141.7 -97.1L-159.7 -109.4M-161.2 -107.2A193.6 193.6 0 0 1 -158.2 -111.6M-161.2 -107.2L-170.3 -113.3M-158.2 -111.6L-167.1 -117.9M-77.9 -72.5L-85.9 -79.9M-93 -71.6A117.4 117.4 0 0 1 -78.1 -87.6M-93 -71.6L-153.4 -118.1M-155 -115.9A193.6 193.6 0 0 1 -151.8 -120.2M-155 -115.9L-163.8 -122.5M-151.8 -120.2L-160.3 -126.9M-78.1 -87.6L-85.3 -95.7M-94.8 -86.4A128.2 128.2 0 0 1 -75 -104.1M-94.8 -86.4L-135.1 -123M-138.4 -119.3A182.7 182.7 0 0 1 -131.6 -126.7M-138.4 -119.3L-146.7 -126.4M-148.4 -124.3A193.6 193.6 0 0 1 -144.9 -128.4M-148.4 -124.3L-156.8 -131.3M-144.9 -128.4L-153.1 -135.6M-131.6 -126.7L-139.5 -134.3M-141.3 -132.3A193.6 193.6 0 0 1 -137.6 -136.2M-141.3 -132.3L-149.3 -139.8M-137.6 -136.2L-145.4 -143.8M-75 -104.1L-81.3 -112.9M-89.4 -106.6A139.1 139.1 0 0 1 -72.8 -118.6M-89.4 -106.6L-110.4 -131.7M-114.4 -128.2A171.8 171.8 0 0 1 -106.2 -135.1M-114.4 -128.2L-121.7 -136.3M-124.4 -133.8A182.7 182.7 0 0 1 -118.8 -138.8M-124.4 -133.8L-131.9 -141.8M-133.8 -139.9A193.6 193.6 0 0 1 -129.9 -143.6M-133.8 -139.9L-141.3 -147.8M-129.9 -143.6L-137.2 -151.6M-118.8 -138.8L-133 -155.4M-106.2 -135.1L-119.7 -152.2M-121.8 -150.5A193.6 193.6 0 0 1 -117.6 -153.8M-121.8 -150.5L-128.6 -159M-117.6 -153.8L-124.2 -162.5M-72.8 -118.6L-78.5 -127.8M-86.1 -122.9A150 150 0 0 1 -70.7 -132.3M-86.1 -122.9L-111.1 -158.5M-113.3 -157A193.6 193.6 0 0 1 -108.9 -160.1M-113.3 -157L-119.7 -165.8M-108.9 -160.1L-115 -169.1M-70.7 -132.3L-75.8 -142M-84 -137.3A160.9 160.9 0 0 1 -67.4 -146.2M-84 -137.3L-95.4 -155.8M-98.6 -153.8A182.7 182.7 0 0 1 -92.1 -157.8M-98.6 -153.8L-110.3 -172.2M-92.1 -157.8L-97.6 -167.2M-99.9 -165.8A193.6 193.6 0 0 1 -95.3 -168.5M-99.9 -165.8L-105.5 -175.2M-95.3 -168.5L-100.7 -178M-67.4 -146.2L-71.9 -156M-78.3 -152.9A171.8 171.8 0 0 1 -65.4 -158.9M-78.3 -152.9L-88.2 -172.3M-90.6 -171.1A193.6 193.6 0 0 1 -85.9 -173.5M-90.6 -171.1L-95.7 -180.7M-85.9 -173.5L-90.7 -183.3M-65.4 -158.9L-69.5 -169M-74.2 -167A182.7 182.7 0 0 1 -64.9 -170.8M-74.2 -167L-78.6 -176.9M-81 -175.8A193.6 193.6 0 0 1 -76.2 -178M-81 -175.8L-85.6 -185.7M-76.2 -178L-80.4 -188M-64.9 -170.8L-68.7 -181M-71.2 -180A193.6 193.6 0 0 1 -66.2 -181.9M-71.2 -180L-75.2 -190.2M-66.2 -181.9L-69.9 -192.2" fill="none" stroke="#151515" stroke-width="1"/>
<g font-family="'Liberation Sans',sans-serif" fill="#262626" stroke="#262626" stroke-width="0.12" font-size="6.8">
<text transform="rotate(279.9)" x="-50" y="6.4">85</text>
<text transform="rotate(-17.6)" x="93.6" y="-1.5" text-anchor="end">63</text>
<text transform="rotate(-51.7)" x="115.4" y="-1.5" text-anchor="end">88</text>
<text transform="rotate(-69.1)" x="126.2" y="-1.5" text-anchor="end">100</text>
<text transform="rotate(-77.5)" x="137.1" y="-1.5" text-anchor="end">100</text>
<text transform="rotate(-81)" x="148" y="-1.5" text-anchor="end">98</text>
<text transform="rotate(-83.8)" x="158.9" y="-1.5" text-anchor="end">100</text>
<text transform="rotate(-86.2)" x="169.8" y="-1.5" text-anchor="end">99</text>
<text transform="rotate(-88)" x="180.7" y="-1.5" text-anchor="end">100</text>
<text transform="rotate(-89.2)" x="191.6" y="-1.5" text-anchor="end">100</text>
<text transform="rotate(-84.5)" x="191.6" y="8.4" text-anchor="end">100</text>
<text transform="rotate(-81.3)" x="191.6" y="8.4" text-anchor="end">100</text>
<text transform="rotate(-78.1)" x="191.6" y="8.4" text-anchor="end">100</text>
<text transform="rotate(-74)" x="158.9" y="8.4" text-anchor="end">100</text>
<text transform="rotate(-72.2)" x="169.8" y="8.4" text-anchor="end">87</text>
<text transform="rotate(-70.2)" x="180.7" y="8.4" text-anchor="end">57</text>
<text transform="rotate(-71.8)" x="191.6" y="-1.5" text-anchor="end">100</text>
<text transform="rotate(-68.7)" x="191.6" y="8.4" text-anchor="end">99</text>
<text transform="rotate(-60.6)" x="137.1" y="8.4" text-anchor="end">100</text>
<text transform="rotate(-63.9)" x="180.7" y="-1.5" text-anchor="end">94</text>
<text transform="rotate(-65.5)" x="191.6" y="-1.5" text-anchor="end">98</text>
<text transform="rotate(-62.3)" x="191.6" y="8.4" text-anchor="end">95</text>
<text transform="rotate(-57.4)" x="148" y="8.4" text-anchor="end">99</text>
<text transform="rotate(-54.8)" x="158.9" y="8.4" text-anchor="end">84</text>
<text transform="rotate(-57.6)" x="191.6" y="-1.5" text-anchor="end">100</text>
<text transform="rotate(-52)" x="169.8" y="8.4" text-anchor="end">80</text>
<text transform="rotate(-54.4)" x="191.6" y="-1.5" text-anchor="end">77</text>
<text transform="rotate(-49.7)" x="180.7" y="8.4" text-anchor="end">100</text>
<text transform="rotate(-51.3)" x="191.6" y="-1.5" text-anchor="end">100</text>
<text transform="rotate(-48.1)" x="191.6" y="8.4" text-anchor="end">99</text>
<text transform="rotate(-34.3)" x="137.1" y="8.4" text-anchor="end">100</text>
<text transform="rotate(-37.7)" x="148" y="-1.5" text-anchor="end">100</text>
<text transform="rotate(-39.9)" x="158.9" y="-1.5" text-anchor="end">100</text>
<text transform="rotate(-42)" x="169.8" y="-1.5" text-anchor="end">99</text>
<text transform="rotate(-43.7)" x="180.7" y="-1.5" text-anchor="end">100</text>
<text transform="rotate(-44.9)" x="191.6" y="-1.5" text-anchor="end">100</text>
<text transform="rotate(-40.2)" x="191.6" y="8.4" text-anchor="end">100</text>
<text transform="rotate(-35.4)" x="191.6" y="8.4" text-anchor="end">100</text>
<text transform="rotate(-31)" x="158.9" y="8.4" text-anchor="end">83</text>
<text transform="rotate(-28.9)" x="169.8" y="8.4" text-anchor="end">96</text>
<text transform="rotate(-30.7)" x="191.6" y="-1.5" text-anchor="end">95</text>
<text transform="rotate(-27.1)" x="180.7" y="8.4" text-anchor="end">88</text>
<text transform="rotate(-26)" x="191.6" y="8.4" text-anchor="end">74</text>
<text transform="rotate(-20.4)" x="169.8" y="8.4" text-anchor="end">100</text>
<text transform="rotate(-22.8)" x="191.6" y="-1.5" text-anchor="end">100</text>
<text transform="rotate(-18)" x="180.7" y="8.4" text-anchor="end">67</text>
<text transform="rotate(-19.6)" x="191.6" y="-1.5" text-anchor="end">100</text>
<text transform="rotate(-16.5)" x="191.6" y="8.4" text-anchor="end">100</text>
<text transform="rotate(0.8)" x="126.2" y="8.4" text-anchor="end">98</text>
<text transform="rotate(-8.9)" x="158.9" y="-1.5" text-anchor="end">100</text>
<text transform="rotate(-10.7)" x="169.8" y="-1.5" text-anchor="end">99</text>
<text transform="rotate(-12.1)" x="180.7" y="-1.5" text-anchor="end">100</text>
<text transform="rotate(-13.3)" x="191.6" y="-1.5" text-anchor="end">100</text>
<text transform="rotate(-7)" x="191.6" y="8.4" text-anchor="end">100</text>
<text transform="rotate(10.4)" x="137.1" y="8.4" text-anchor="end">100</text>
<text transform="rotate(3.3)" x="148" y="-1.5" text-anchor="end">100</text>
<text transform="rotate(0.8)" x="158.9" y="-1.5" text-anchor="end">68</text>
<text transform="rotate(-1.6)" x="169.8" y="-1.5" text-anchor="end">96</text>
<text transform="rotate(-3.8)" x="191.6" y="-1.5" text-anchor="end">100</text>
<text transform="rotate(0.5)" x="180.7" y="8.4" text-anchor="end">100</text>
<text transform="rotate(-0.7)" x="191.6" y="-1.5" text-anchor="end">100</text>
<text transform="rotate(5.7)" x="191.6" y="8.4" text-anchor="end">100</text>
<text transform="rotate(17.6)" x="148" y="8.4" text-anchor="end">79</text>
<text transform="rotate(12.1)" x="158.9" y="-1.5" text-anchor="end">94</text>
<text transform="rotate(9.8)" x="169.8" y="-1.5" text-anchor="end">100</text>
<text transform="rotate(11.6)" x="180.7" y="8.4" text-anchor="end">99</text>
<text transform="rotate(10.4)" x="191.6" y="-1.5" text-anchor="end">100</text>
<text transform="rotate(23.2)" x="158.9" y="8.4" text-anchor="end">99</text>
<text transform="rotate(17.9)" x="169.8" y="-1.5" text-anchor="end">100</text>
<text transform="rotate(19.9)" x="180.7" y="8.4" text-anchor="end">68</text>
<text transform="rotate(18.3)" x="191.6" y="-1.5" text-anchor="end">100</text>
<text transform="rotate(21.5)" x="191.6" y="8.4" text-anchor="end">100</text>
<text transform="rotate(28.4)" x="169.8" y="8.4" text-anchor="end">95</text>
<text transform="rotate(25.8)" x="180.7" y="-1.5" text-anchor="end">100</text>
<text transform="rotate(24.7)" x="191.6" y="-1.5" text-anchor="end">100</text>
<text transform="rotate(31)" x="180.7" y="8.4" text-anchor="end">100</text>
<text transform="rotate(29.4)" x="191.6" y="-1.5" text-anchor="end">100</text>
<text transform="rotate(32.6)" x="191.6" y="8.4" text-anchor="end">76</text>
<text transform="rotate(47.7)" x="126.2" y="8.4" text-anchor="end">100</text>
<text transform="rotate(44)" x="148" y="-1.5" text-anchor="end">97</text>
<text transform="rotate(41.2)" x="158.9" y="-1.5" text-anchor="end">97</text>
<text transform="rotate(38.7)" x="169.8" y="-1.5" text-anchor="end">74</text>
<text transform="rotate(36.9)" x="180.7" y="-1.5" text-anchor="end">100</text>
<text transform="rotate(35.7)" x="191.6" y="-1.5" text-anchor="end">100</text>
<text transform="rotate(40.5)" x="191.6" y="8.4" text-anchor="end">100</text>
<text transform="rotate(43.6)" x="191.6" y="8.4" text-anchor="end">100</text>
<text transform="rotate(46.8)" x="191.6" y="8.4" text-anchor="end">100</text>
<text transform="rotate(51.5)" x="137.1" y="8.4" text-anchor="end">100</text>
<text transform="rotate(53.8)" x="148" y="8.4" text-anchor="end">61</text>
<text transform="rotate(51.5)" x="191.6" y="-1.5" text-anchor="end">99</text>
<text transform="rotate(56)" x="158.9" y="8.4" text-anchor="end">100</text>
<text transform="rotate(58.1)" x="169.8" y="8.4" text-anchor="end">99</text>
<text transform="rotate(56.3)" x="191.6" y="-1.5" text-anchor="end">77</text>
<text transform="rotate(59.8)" x="180.7" y="8.4" text-anchor="end">98</text>
<text transform="rotate(61)" x="191.6" y="8.4" text-anchor="end">100</text>
<text transform="rotate(87)" x="71.8" y="8.4" text-anchor="end">77</text>
<text transform="rotate(77.2)" x="137.1" y="-1.5" text-anchor="end">100</text>
<text transform="rotate(72.6)" x="148" y="-1.5" text-anchor="end">100</text>
<text transform="rotate(69.6)" x="158.9" y="-1.5" text-anchor="end">99</text>
<text transform="rotate(67.2)" x="169.8" y="-1.5" text-anchor="end">96</text>
<text transform="rotate(65.4)" x="180.7" y="-1.5" text-anchor="end">99</text>
<text transform="rotate(64.2)" x="191.6" y="-1.5" text-anchor="end">100</text>
<text transform="rotate(68.9)" x="191.6" y="8.4" text-anchor="end">100</text>
<text transform="rotate(72.1)" x="191.6" y="8.4" text-anchor="end">100</text>
<text transform="rotate(75.7)" x="180.7" y="8.4" text-anchor="end">100</text>
<text transform="rotate(76.8)" x="191.6" y="8.4" text-anchor="end">100</text>
<text transform="rotate(81.8)" x="169.8" y="8.4" text-anchor="end">100</text>
<text transform="rotate(80)" x="191.6" y="-1.5" text-anchor="end">100</text>
<text transform="rotate(83.6)" x="180.7" y="8.4" text-anchor="end">100</text>
<text transform="rotate(84.7)" x="191.6" y="8.4" text-anchor="end">100</text>
<text transform="rotate(276.9)" x="-82.7" y="-1.5">75</text>
<text transform="rotate(88.7)" x="148" y="-1.5" text-anchor="end">100</text>
<text transform="rotate(270.4)" x="-158.9" y="-1.5">99</text>
<text transform="rotate(272.1)" x="-169.8" y="-1.5">56</text>
<text transform="rotate(273.8)" x="-180.7" y="-1.5">100</text>
<text transform="rotate(272.7)" x="-191.6" y="6.4">100</text>
<text transform="rotate(285)" x="-93.6" y="-1.5">51</text>
<text transform="rotate(278.3)" x="-158.9" y="6.4">100</text>
<text transform="rotate(280)" x="-169.8" y="-1.5">55</text>
<text transform="rotate(281.7)" x="-180.7" y="-1.5">100</text>
<text transform="rotate(280.6)" x="-191.6" y="6.4">100</text>
<text transform="rotate(291.7)" x="-104.5" y="-1.5">78</text>
<text transform="rotate(285.9)" x="-169.8" y="6.4">100</text>
<text transform="rotate(287.3)" x="-180.7" y="-1.5">100</text>
<text transform="rotate(288.5)" x="-191.6" y="-1.5">100</text>
<text transform="rotate(297.5)" x="-115.4" y="-1.5">100</text>
<text transform="rotate(292)" x="-180.7" y="6.4">100</text>
<text transform="rotate(293.2)" x="-191.6" y="-1.5">100</text>
<text transform="rotate(302.9)" x="-126.2" y="-1.5">62</text>
<text transform="rotate(297.6)" x="-180.7" y="6.4">100</text>
<text transform="rotate(296.4)" x="-191.6" y="6.4">100</text>
<text transform="rotate(308.3)" x="-137.1" y="-1.5">65</text>
<text transform="rotate(303.3)" x="-169.8" y="6.4">100</text>
<text transform="rotate(301.5)" x="-180.7" y="6.4">100</text>
<text transform="rotate(302.7)" x="-191.6" y="-1.5">100</text>
<text transform="rotate(313.4)" x="-148" y="-1.5">66</text>
<text transform="rotate(309)" x="-180.7" y="6.4">100</text>
<text transform="rotate(307.4)" x="-191.6" y="6.4">100</text>
<text transform="rotate(310.6)" x="-191.6" y="-1.5">51</text>
<text transform="rotate(317.7)" x="-158.9" y="-1.5">59</text>
<text transform="rotate(314.2)" x="-180.7" y="6.4">100</text>
<text transform="rotate(315.3)" x="-191.6" y="-1.5">100</text>
<text transform="rotate(321.3)" x="-169.8" y="-1.5">98</text>
<text transform="rotate(318.9)" x="-180.7" y="6.4">100</text>
<text transform="rotate(320.1)" x="-191.6" y="-1.5">100</text>
<text transform="rotate(323.7)" x="-180.7" y="-1.5">100</text>
<text transform="rotate(324.8)" x="-191.6" y="-1.5">100</text>
<text transform="rotate(328.7)" x="-158.9" y="-1.5">100</text>
<text transform="rotate(330.2)" x="-169.8" y="-1.5">100</text>
<text transform="rotate(331.6)" x="-180.7" y="-1.5">100</text>
<text transform="rotate(332.7)" x="-191.6" y="-1.5">100</text>
<text transform="rotate(4.1)" x="-71.8" y="-1.5">85</text>
<text transform="rotate(346.4)" x="-148" y="6.4">100</text>
<text transform="rotate(342.6)" x="-158.9" y="6.4">100</text>
<text transform="rotate(339.9)" x="-169.8" y="6.4">100</text>
<text transform="rotate(337.5)" x="-180.7" y="6.4">95</text>
<text transform="rotate(335.9)" x="-191.6" y="6.4">92</text>
<text transform="rotate(339.1)" x="-191.6" y="-1.5">63</text>
<text transform="rotate(342.2)" x="-191.6" y="-1.5">100</text>
<text transform="rotate(345.4)" x="-191.6" y="-1.5">100</text>
<text transform="rotate(350.1)" x="-180.7" y="-1.5">73</text>
<text transform="rotate(348.6)" x="-191.6" y="6.4">100</text>
<text transform="rotate(351.7)" x="-191.6" y="-1.5">100</text>
<text transform="rotate(21.8)" x="-82.7" y="-1.5">71</text>
<text transform="rotate(12)" x="-126.2" y="6.4">99</text>
<text transform="rotate(6.4)" x="-137.1" y="6.4">79</text>
<text transform="rotate(3.3)" x="-148" y="6.4">100</text>
<text transform="rotate(0.6)" x="-158.9" y="6.4">77</text>
<text transform="rotate(358.4)" x="-169.8" y="6.4">64</text>
<text transform="rotate(356.5)" x="-180.7" y="6.4">100</text>
<text transform="rotate(354.9)" x="-191.6" y="6.4">100</text>
<text transform="rotate(358)" x="-191.6" y="-1.5">100</text>
<text transform="rotate(2.8)" x="-191.6" y="-1.5">100</text>
<text transform="rotate(6)" x="-191.6" y="-1.5">93</text>
<text transform="rotate(9.5)" x="-180.7" y="-1.5">98</text>
<text transform="rotate(10.7)" x="-191.6" y="-1.5">75</text>
<text transform="rotate(17.6)" x="-169.8" y="-1.5">99</text>
<text transform="rotate(15)" x="-180.7" y="6.4">100</text>
<text transform="rotate(13.9)" x="-191.6" y="6.4">100</text>
<text transform="rotate(20.2)" x="-180.7" y="-1.5">100</text>
<text transform="rotate(18.6)" x="-191.6" y="6.4">100</text>
<text transform="rotate(21.8)" x="-191.6" y="-1.5">100</text>
<text transform="rotate(31.6)" x="-93.6" y="-1.5">100</text>
<text transform="rotate(25.3)" x="-180.7" y="6.4">100</text>
<text transform="rotate(26.5)" x="-191.6" y="-1.5">100</text>
<text transform="rotate(37.8)" x="-104.5" y="-1.5">68</text>
<text transform="rotate(32.6)" x="-169.8" y="6.4">100</text>
<text transform="rotate(30.9)" x="-180.7" y="6.4">100</text>
<text transform="rotate(29.7)" x="-191.6" y="6.4">100</text>
<text transform="rotate(34.4)" x="-191.6" y="-1.5">100</text>
<text transform="rotate(37.6)" x="-191.6" y="6.4">98</text>
<text transform="rotate(48.3)" x="-126.2" y="-1.5">91</text>
<text transform="rotate(42.3)" x="-180.7" y="6.4">74</text>
<text transform="rotate(40.7)" x="-191.6" y="6.4">100</text>
<text transform="rotate(43.9)" x="-191.6" y="-1.5">100</text>
<text transform="rotate(54.2)" x="-137.1" y="-1.5">96</text>
<text transform="rotate(50)" x="-169.8" y="6.4">98</text>
<text transform="rotate(48.3)" x="-180.7" y="6.4">78</text>
<text transform="rotate(47.1)" x="-191.6" y="6.4">100</text>
<text transform="rotate(51.8)" x="-191.6" y="-1.5">100</text>
<text transform="rotate(58.4)" x="-148" y="-1.5">100</text>
<text transform="rotate(55)" x="-191.6" y="6.4">100</text>
<text transform="rotate(61.9)" x="-158.9" y="-1.5">99</text>
<text transform="rotate(58.5)" x="-180.7" y="6.4">100</text>
<text transform="rotate(59.7)" x="-191.6" y="-1.5">100</text>
<text transform="rotate(65.3)" x="-169.8" y="-1.5">100</text>
<text transform="rotate(62.9)" x="-191.6" y="6.4">98</text>
<text transform="rotate(67.6)" x="-180.7" y="-1.5">76</text>
<text transform="rotate(66)" x="-191.6" y="6.4">100</text>
<text transform="rotate(69.2)" x="-191.6" y="-1.5">51</text>
</g>
</g></svg>
</body></html>
